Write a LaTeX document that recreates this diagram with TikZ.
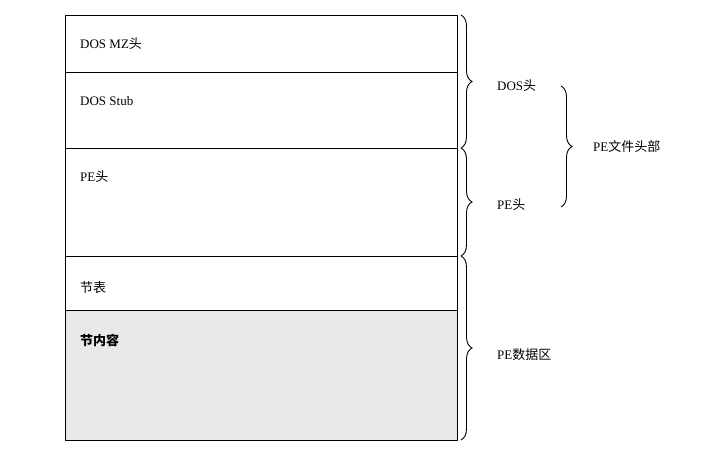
\documentclass[tikz,border=0pt]{standalone}
\usepackage{fontspec}
\setmainfont{Liberation Serif}
\newfontfamily\cjk{Noto Sans CJK SC}
\usetikzlibrary{decorations.pathreplacing}
\begin{document}
\begin{tikzpicture}[x=1pt,y=-1pt,
  lbl/.style={anchor=west,font=\fontsize{13}{15}\selectfont,inner sep=0pt},
  br/.style={decorate,decoration={brace,amplitude=11pt},line width=0.9pt},
  part/.style={draw,line width=0.9pt}]
\useasboundingbox (0,0) rectangle (707,454);
\fill[gray!18] (65,310) rectangle (457,440);
\draw[part] (65,15) rectangle (457,440);
\coordinate (a1) at (65,72); \coordinate (b1) at (457,72);
\coordinate (a2) at (65,148); \coordinate (b2) at (457,148);
\coordinate (a3) at (65,256); \coordinate (b3) at (457,256);
\coordinate (a4) at (65,310); \coordinate (b4) at (457,310);
\draw[part] (a1) -- (b1); \draw[part] (a2) -- (b2);
\draw[part] (a3) -- (b3); \draw[part] (a4) -- (b4);
\node[lbl] (t1) at (80,44) {DOS MZ{\cjk 头}};
\node[lbl] (t2) at (80,101) {DOS Stub};
\node[lbl] (t3) at (80,177) {PE{\cjk 头}};
\node[lbl] (t4) at (80,288) {\cjk 节表};
\node[lbl] (t5) at (80,340) {\cjk\bfseries 节内容};
\coordinate (c0) at (461,15); \coordinate (c1) at (461,148);
\coordinate (c2) at (461,256); \coordinate (c3) at (461,440);
\draw[br] (c0) -- (c1);
\draw[br] (c1) -- (c2);
\draw[br] (c2) -- (c3);
\node[lbl] (dos) at (497,86) {DOS{\cjk 头}};
\node[lbl] (pe) at (497,205) {PE{\cjk 头}};
\node[lbl] (data) at (497,355) {PE{\cjk 数据区}};
\coordinate (d0) at (561,86); \coordinate (d1) at (561,207);
\draw[br] (d0) -- (d1);
\node[lbl] (hdr) at (593,147) {PE{\cjk 文件头部}};
\end{tikzpicture}
\end{document}
